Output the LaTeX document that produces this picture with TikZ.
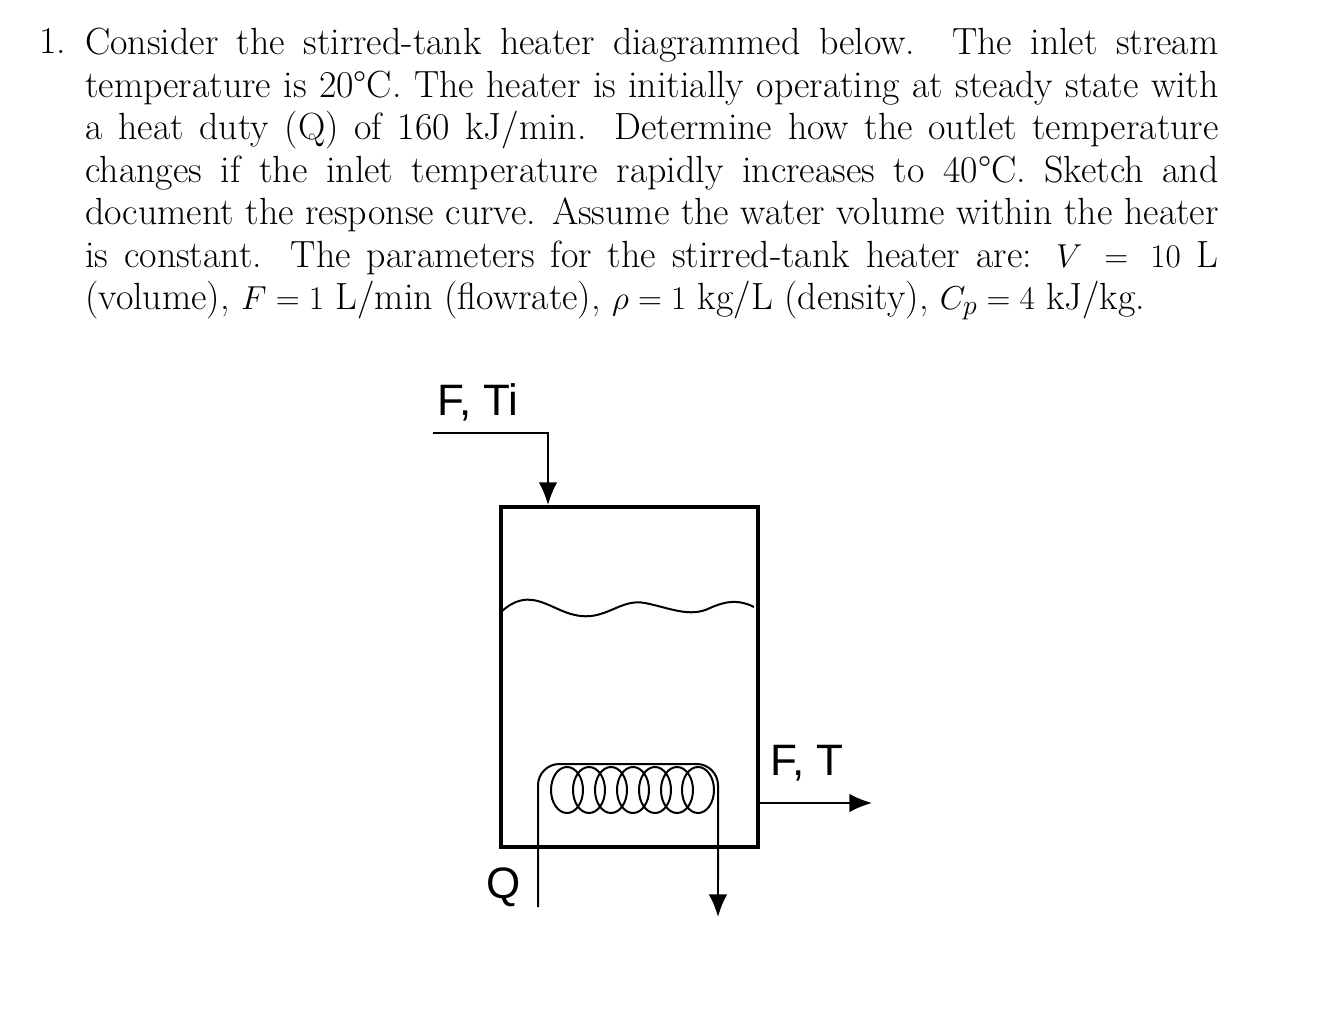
\documentclass[tikz,border=0pt]{standalone}
\usepackage{fontspec}
\newfontfamily\diag{Liberation Sans}
\usetikzlibrary{arrows.meta}
\begin{document}
\begin{tikzpicture}[x=0.75pt,y=-0.75pt,
  wall/.style={line width=3pt},
  pipe/.style={line width=1.5pt},
  flow/.style={line width=1.5pt,-{Latex[length=17pt,width=14pt]}},
  lbl/.style={font=\diag\fontsize{33}{33}\selectfont,inner sep=0pt}]
\useasboundingbox (0,0) rectangle (1332,1012);
\node[anchor=north west,inner sep=0pt,font=\fontsize{28.4}{31.9}\selectfont] (n1) at (39,28) {1.};
\node[anchor=north west,inner sep=0pt,text width=850pt,align=justify,font=\fontsize{28.4}{31.9}\selectfont] (q) at (85,28)
{Consider the stirred-tank heater diagrammed below. The inlet stream\linebreak
temperature is 20\textdegree C. The heater is initially operating at steady state with\linebreak
a heat duty (Q) of 160 kJ/min. Determine how the outlet temperature\linebreak
changes if the inlet temperature rapidly increases to 40\textdegree C. Sketch and\linebreak
document the response curve. Assume the water volume within the heater\linebreak
is constant. The parameters for the stirred-tank heater are: $V\,=\,10$ L\linebreak
(volume), $F=1$ L/min (flowrate), $\rho=1$ kg/L (density), $C_p=4$ kJ/kg.};
\node[draw,wall,minimum width=257*0.75pt,minimum height=340*0.75pt,anchor=north west,inner sep=0pt] (tank) at (499,505) {};
\node[lbl,anchor=south west] (fti) at (437,421) {F, Ti};
\coordinate (in0) at (433,433);
\coordinate (in1) at (548,433);
\draw[flow] (in0) -- (in1) -- (548,505);
\draw[pipe] (501,612) .. controls (530,585) and (550,610) .. (575,615)
  .. controls (605,622) and (620,598) .. (645,603)
  .. controls (670,608) and (690,618) .. (710,608)
  .. controls (728,600) and (740,600) .. (754,607);
\coordinate (qend) at (538,907);
\coordinate (rout) at (718,917);
\draw[pipe,rounded corners=16pt] (qend) -- (538,764) -- (718,764) -- (718,880);
\draw[flow] (718,860) -- (rout);
\foreach \cx in {567,589,611,633,655,677,698}
  \draw[pipe] (\cx,790) ellipse (16 and 23);
\node[lbl,anchor=south west] (q2) at (486,907) {Q};
\coordinate (o0) at (756,803);
\coordinate (o1) at (872,803);
\draw[flow] (o0) -- (o1);
\node[lbl,anchor=south west] (ft) at (770,781) {F, T};
\end{tikzpicture}
\end{document}
